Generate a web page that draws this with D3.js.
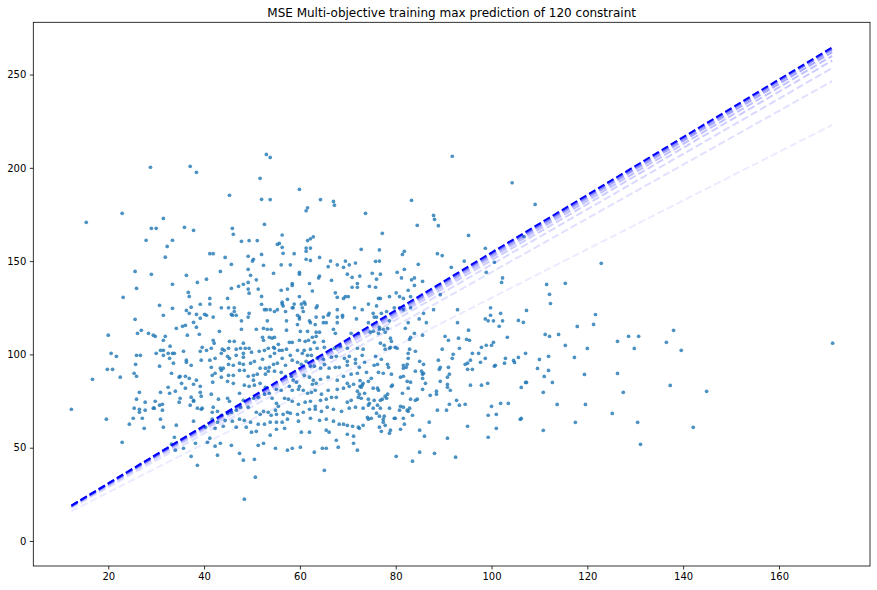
<!DOCTYPE html>
<html>
<head>
<meta charset="utf-8">
<script src="https://cdn.jsdelivr.net/npm/d3@7"></script>
<style>
html,body{margin:0;padding:0;background:#fff;}
svg{display:block;font-family:"DejaVu Sans",sans-serif;}
</style>
</head>
<body>
<svg id="chart" width="877" height="590"></svg>
<script>
const title = "MSE Multi-objective training max prediction of 120 constraint";
const xTicks = [20, 40, 60, 80, 100, 120, 140, 160];
const yTicks = [0, 50, 100, 150, 200, 250];
const xDomain = [4.35, 179.0];
const yDomain = [-13.4, 278.0];

// fitted lines: x range, y at start, y at end, opacity
const lineX = [12.3, 171.1];
const lineStartY = [16.0, 17.7, 18.2, 18.5, 18.7, 18.8, 18.9, 19.0];
const lineEndY   = [223.0, 246.5, 253.5, 257.5, 260.0, 262.0, 263.5, 264.5];
const lineAlpha  = [0.08, 0.12, 0.15, 0.2, 0.25, 0.35, 0.5, 1.0];

// scatter points [x, y]
const points = [
[28.8,200.3],[37.1,200.8],[38.4,197.6],[22.9,175.6],[15.4,170.8],[31.5,172.9],[29.0,167.6],[30.0,167.6],[35.9,168.1],[37.8,166.5],
[27.9,161.2],[33.4,161.2],[32.3,157.9],[31.9,152.1],[25.6,144.5],[29.0,142.9],[36.3,142.4],[40.5,140.3],[38.6,138.6],[33.4,137.6],
[25.9,135.4],[36.7,133.3],[36.9,131.1],[23.1,130.6],[39.2,126.9],[30.7,126.3],[33.4,124.7],[37.3,125.3],[36.3,123.6],[31.5,121.0],
[36.9,122.0],[38.4,121.5],[40.1,121.5],[40.5,121.0],[39.2,119.4],[25.6,118.8],[37.8,117.2],
[53.0,207.2],[53.8,205.6],[51.7,194.4],[45.3,185.3],[59.9,188.5],[52.0,183.1],[53.8,183],[64.3,183],[67.0,182],[67.2,180],
[61.6,178.6],[61.3,177],[52.6,169.7],[45.9,167.6],[46.1,164.4],[56.3,164],[47.8,160.6],[49.4,161],[51.1,161],[61.6,161],
[62.2,162],[62.8,163],[55.7,159.5],[55.3,159],[56.3,157.4],[61.3,157],[62.2,157],[61.3,155.3],[56.5,154.2],[52.0,153.6],
[58.8,154],[41.2,154],[41.9,154],[44.4,152],[49.2,152.6],[50.3,151],[50.1,150],[64.1,152],[61.3,151],[62.2,150.4],
[45.7,148.3],[52.4,147.8],[56.1,148],[58.0,148],[66.4,150],[67.8,148],[69.1,146.7],[69.5,150],[70.3,148],[71.6,149],
[65.9,147],[49.2,145.6],[43.4,144.5],[54.5,143.5],[59.9,144],[59.9,143],[49.7,142.4],[69.9,143],[70.9,141.3],[72.5,142],
[64.1,142],[63.9,141],[66.6,139.7],[50.9,140],[49.2,138.6],[48.2,137.6],[47.2,136.5],[58.4,138],[58.4,137],[62.0,138],
[72.0,138],[72.0,136],[70.9,136],[45.7,135.4],[49.2,135],[51.3,135],[57.4,135],[56.1,134.4],[62.6,134],[49.4,132.8],
[67.4,133],[52.0,131.1],[59.9,131],[67.8,130.6],[69.1,130],[69.5,131],[70.1,131],[44.9,130],[41.2,130],[57.4,129.5],
[52.0,126.9],[41.2,127],[56.3,128],[56.3,127],[56.5,126],[58.8,127],[60.3,127],[60.9,128],[61.1,127],[58.4,125],
[58.6,125],[63.6,126],[63.4,125],[43.6,125],[45.1,125],[46.3,125],[52.6,124],[53.0,124],[53.8,124],[55.3,124],
[54.7,123],[57.0,123],[60.5,125],[60.7,123],[46.3,123],[45.7,121.5],[45.9,121],[46.7,121],[49.4,122],[49.2,120],
[59.5,121],[59.9,120],[59.9,119],[63.4,120],[64.9,120],[66.1,122],[65.9,121],[67.8,124],[67.8,120],[68.9,121],
[68.9,120],[71.4,125],[41.9,120],[47.8,118],[53.2,118],[57.2,118],[62.0,118],[62.2,117],[63.2,116],[64.9,117],
[65.5,117],[67.8,117],[59.5,116],[71.8,119],
[91.8,206.2],[83.3,182.6],[73.7,175.6],[87.9,174.5],[88.1,172.4],[84.5,169.2],[88.9,169],[77.2,164.9],[95.2,163.8],[72.8,156.3],
[76.6,156],[81.8,155.3],[81.4,153.6],[88.7,154],[89.7,153],[98.7,156.9],[75.8,149.9],[76.6,150],[84.7,148.3],[94.3,150],
[100.6,149.4],[91.6,146.7],[81.8,145.6],[80.3,144],[75.1,143.5],[76.8,143],[98.9,144],[76.0,140.3],[81.2,141],
[83.3,140],[83.9,141],[85.6,139.2],[102.3,141],[102.1,138.6],[74.5,136.5],[75.8,136],[83.9,137],[82.6,134.4],[78.7,131],
[80.1,133],[80.8,131],[81.6,130],[83.1,131],[89.3,132],[76.4,130],[76.8,130],[74.3,127],[76.0,126],[79.7,125],
[80.8,125],[81.6,124],[83.1,125],[78.1,123],[75.3,122],[77.0,122],[85.8,122],[87.9,124],[92.9,124],[99.8,125],
[73.0,124],[75.5,120],[76.0,120],[78.7,118],[82.6,117],[84.9,119],[86.4,117],[92.9,117],[98.7,119],[99.3,118],
[99.8,121],[100.4,118],[101.9,122],[102.3,118],[74.3,117],
[20.0,110.3],[26.1,111.3],[26.9,112.9],[28.4,111.3],[29.4,110.3],[29.8,109.7],[31.9,109.7],[31.5,107.6],[34.2,114.0],[35.5,115.1],
[36.1,115.6],[38.4,114.6],[36.5,110.3],[39.0,110.8],[32.9,104.4],[30.9,102.2],[31.5,102.2],[30.0,100.6],[32.5,100.6],[33.4,100.6],
[33.8,100.6],[31.5,99.5],[32.8,97.9],[35.7,101.7],[39.2,101.7],[39.6,103.8],[40.5,102.2],[20.6,100.6],[21.7,99.0],
[25.9,99.5],[26.7,99.5],[36.3,96.9],[36.3,95.8],[33.6,95.3],[39.4,96.9],[25.7,94.7],[30.7,93.7],[37.3,94.2],
[19.8,92.0],[20.9,92.0],[25.4,89.9],[25.9,88.3],[22.5,87.8],[16.7,86.7],[33.2,89.9],[34.8,87.8],[35.0,88.3],[36.1,88.3],
[36.9,87.2],[38.4,86.2],[35.3,84.5],[36.1,81.9],[37.8,84.0],[39.2,82.9],[32.5,82.4],[26.5,79.7],[30.9,79.7],[32.8,79.2],
[34.0,80.3],[39.2,79.7],[39.4,77.6],[25.9,76.0],[35.0,76.5],[34.8,74.4],[37.3,77.1],[37.8,75.4],[37.1,72.8],
[37.8,74.9],[27.7,74.4],[29.8,74.9],[30.7,72.8],[31.3,73.3],[25.4,71.2],[26.5,70.6],[26.5,69.0],[27.7,70.1],[29.4,71.2],
[29.6,71.2],[31.3,70.1],[38.6,71.2],[39.4,70.6],[39.6,71.2],[12.3,70.6],[25.2,65.8],[27.1,65.8],[19.6,65.3],[30.9,65.3],
[24.4,62.6],[27.5,60.4],[31.5,61.0],[34.2,62.1],[37.8,64.2],[40.3,61.0],[22.9,52.9],[33.8,55.6],[38.2,52.4],
[40.7,52.9],[35.7,49.7],[34.0,48.7],[37.3,45.4],[38.6,40.6],[33.2,51.9],
[43.2,112.4],[47.8,113.5],[50.9,113.5],[52.4,114.0],[53.2,113.5],[54.0,113.5],[57.2,113.0],[60.1,112.4],[61.6,112.4],
[63.4,111.9],[64.1,111.9],[67.0,113.5],[67.4,111.3],[70.7,111.3],[72.2,111.3],[41.9,107.6],[42.1,106.0],[46.3,107.0],[48.2,106.0],
[45.3,107.0],[52.2,109.2],[52.4,107.6],[53.6,109.2],[54.2,108.7],[54.7,109.2],[55.5,105.4],[57.8,106.5],[58.4,106.5],[59.9,107.6],
[61.1,107.0],[61.8,107.6],[62.6,109.2],[63.0,106.5],[63.4,109.7],[64.9,107.0],[41.5,103.3],[43.8,102.8],[44.2,102.2],[45.1,103.3],
[46.7,102.8],[47.6,103.3],[48.6,103.3],[49.4,103.3],[51.5,101.7],[52.6,102.2],[53.4,103.3],[54.5,103.8],[54.7,103.3],[55.7,102.2],
[56.3,102.2],[57.2,102.8],[59.5,102.2],[60.9,102.2],[62.2,102.8],[63.6,103.3],[65.1,103.8],[67.2,103.3],[68.4,104.4],[69.9,103.3],
[72.0,103.3],[43.6,100.6],[44.9,99.0],[45.3,97.9],[46.7,99.5],[48.2,100.6],[48.2,98.5],[49.9,101.2],[52.2,97.4],[53.8,99.0],
[54.7,100.6],[56.3,97.9],[58.0,99.5],[60.5,100.6],[61.6,99.5],[62.4,99.5],[63.6,97.9],[64.9,97.4],[66.6,98.5],[67.6,99.0],
[69.3,97.9],[70.3,99.0],[71.6,97.4],[41.2,96.9],[42.3,97.9],[41.5,93.1],[43.4,92.6],[43.6,91.5],[44.0,92.6],[45.1,94.7],
[46.1,94.2],[47.4,95.3],[48.2,94.7],[49.7,95.3],[50.5,96.3],[51.7,92.6],[52.8,92.6],[53.6,93.1],[54.5,94.7],[55.3,95.3],
[57.0,94.2],[58.4,96.9],[59.5,95.8],[60.3,94.7],[61.3,96.3],[62.2,93.7],[63.0,93.7],[64.3,92.6],[65.1,94.7],[66.1,92.6],
[67.4,93.1],[68.2,93.1],[69.9,96.3],[69.9,94.2],[71.6,95.3],[72.4,93.1],[42.3,89.9],[41.7,88.8],[45.1,88.8],[46.1,88.8],
[46.1,84.5],[47.4,91.5],[48.4,91.5],[49.2,88.3],[50.3,86.2],[50.5,83.5],[50.3,88.8],[51.1,89.4],[52.8,89.4],[53.4,91.0],
[54.7,91.0],[56.1,90.4],[57.0,88.3],[58.2,88.3],[58.6,86.2],[59.3,85.1],[59.9,82.9],[60.9,88.8],[62.0,87.8],[62.6,84.0],
[62.8,86.2],[63.4,84.5],[64.3,86.7],[65.9,87.8],[67.8,86.2],[69.1,88.3],[70.7,89.4],[72.0,89.9],[69.9,84.5],[71.2,84.0],
[41.8,85.1],[43.6,87.8],[44.9,85.6],[48.4,83.5],[49.4,82.9],[51.7,84.5],[52.8,82.4],[55.1,81.3],[56.1,80.8],[57.8,82.9],
[58.4,80.8],[59.7,81.3],[60.7,80.8],[61.6,79.2],[62.4,79.7],[63.2,80.8],[64.5,78.7],[65.9,80.8],[66.6,77.0],[67.8,81.3],
[69.1,81.9],[70.3,82.9],[72.0,80.3],[72.4,78.7],[41.5,78.7],[43.0,76.0],[44.9,76.5],[45.3,74.9],[47.4,79.2],[48.2,75.4],
[50.3,76.5],[51.3,77.0],[52.6,78.7],[53.6,79.2],[54.2,76.5],[55.1,73.8],[55.5,72.2],[56.8,76.5],[57.6,76.0],[58.4,74.9],
[59.7,73.3],[61.1,74.4],[62.2,74.9],[63.2,72.2],[64.3,75.4],[65.5,76.0],[67.6,77.0],[69.9,74.4],[70.7,75.4],[72.2,77.0],
[41.9,71.7],[41.7,69.0],[42.8,69.5],[43.6,67.4],[44.9,68.5],[45.7,69.0],[46.7,70.1],[47.6,71.7],[49.2,71.7],[50.9,69.0],
[51.7,67.9],[52.4,69.5],[53.4,69.0],[54.0,67.4],[54.9,70.1],[55.1,67.9],[56.5,67.9],[57.4,69.0],[58.0,68.5],[59.5,67.9],
[60.7,69.0],[62.0,70.6],[63.2,70.6],[64.5,69.5],[65.7,71.7],[67.0,70.6],[68.7,69.5],[70.3,71.2],[71.6,71.7],[41.7,65.3],
[42.8,63.7],[44.4,64.7],[45.9,64.2],[47.4,65.3],[48.4,64.7],[49.7,63.7],[51.3,62.6],[52.6,62.6],[53.8,63.7],[55.1,63.7],
[56.3,63.7],[57.4,65.3],[59.7,64.2],[62.2,65.8],[64.1,64.7],[65.5,65.3],[67.0,64.2],[68.2,62.6],[69.1,62.6],[69.9,62.0],
[71.0,61.5],[72.2,61.0],[42.3,60.4],[44.0,61.5],[46.7,61.0],[48.8,61.0],[49.9,58.3],[50.9,58.8],[53.8,56.7],[55.1,59.9],
[56.8,60.4],[60.3,58.3],[62.0,58.3],[65.5,59.4],[66.1,58.3],[67.6,54.0],[69.9,57.2],[71.2,56.2],[72.4,60.4],[41.2,55.1],
[43.4,52.4],[45.7,51.3],[42.3,50.8],[42.8,46.0],[51.3,51.3],[52.4,52.4],[54.9,49.7],[57.4,48.7],[58.4,49.7],[60.1,50.3],
[63.0,47.6],[64.7,49.7],[65.5,49.7],[68.0,50.3],[71.2,52.4],[72.0,48.7],[47.4,47.0],[48.2,43.3],[50.5,43.8],[65.1,37.9],
[50.7,34.2],[48.4,22.4],
[82.0,114.0],[85.6,110.3],[83.9,111.3],[82.9,108.1],[83.1,109.2],[78.9,108.7],[79.1,107.0],[76.6,113.5],[77.4,113.5],[78.3,114.0],
[75.3,112.4],[74.7,111.9],[76.4,111.3],[77.8,111.9],[76.6,114.5],[90.3,109.7],[91.0,107.6],[93.1,108.7],[94.8,108.1],
[95.4,107.6],[95.2,113.0],[101.6,115.1],[103.3,109.2],[76.8,106.0],[77.6,104.9],[77.8,102.8],[78.7,103.3],[78.9,103.8],[79.9,103.8],
[80.3,103.3],[82.9,102.8],[82.6,100.6],[84.1,101.7],[89.7,102.8],[93.3,103.3],[96.0,100.6],[97.3,100.6],[97.9,103.8],[98.9,104.9],
[100.0,104.9],[100.4,106.5],[92.0,100.1],[91.8,97.9],[95.6,96.9],[95.0,95.3],[94.5,94.7],[97.7,95.8],[98.7,97.9],[100.8,94.2],
[100.6,93.7],[102.7,95.3],[102.9,97.9],[73.2,102.8],[73.0,99.5],[75.8,99.0],[77.0,97.4],[73.5,95.8],[75.5,94.2],[76.2,94.7],
[78.3,94.7],[78.5,93.1],[81.6,94.2],[82.4,94.7],[82.2,93.1],[81.6,92.6],[85.0,96.3],[85.8,94.7],[88.9,96.9],[89.3,93.1],
[89.1,92.0],[91.0,93.1],[95.0,92.0],[96.0,92.0],[73.9,90.4],[76.4,90.4],[77.4,89.9],[79.1,89.4],[81.0,87.8],[81.6,88.3],
[82.6,97.9],[84.1,91.0],[85.4,91.0],[85.6,89.4],[85.8,89.9],[85.6,87.2],[91.2,89.4],[90.8,87.8],[74.9,87.2],[74.3,85.6],
[73.2,84.5],[73.0,83.5],[72.8,82.4],[73.5,79.2],[75.3,81.9],[76.2,81.9],[76.4,80.8],[79.3,83.5],[79.1,82.9],[82.4,85.6],
[83.1,85.1],[82.6,81.9],[86.2,84.5],[85.6,81.3],[89.3,85.6],[90.8,84.0],[90.8,82.4],[91.4,80.8],[88.5,80.3],[88.5,78.7],
[87.2,78.1],[81.4,79.2],[78.3,78.7],[77.8,77.6],[78.1,76.5],[77.2,76.0],[76.8,75.4],[72.8,76.5],[74.3,76.0],[75.5,75.4],
[74.5,73.8],[74.3,72.8],[73.2,71.2],[76.2,72.8],[75.3,71.2],[76.8,71.2],[78.7,71.2],[81.0,72.2],[81.6,71.7],[82.9,71.2],
[82.4,70.1],[80.8,70.1],[79.9,65.8],[79.7,65.8],[82.6,69.5],[84.5,76.0],[84.1,75.4],[83.1,76.0],[83.5,67.4],[88.7,70.1],
[90.6,70.1],[91.2,73.3],[93.3,72.8],[94.5,73.3],[92.7,75.4],[95.6,83.5],[97.9,83.5],[99.2,84.5],[100.0,72.2],[101.9,73.8],
[103.5,73.8],[101.0,67.9],[99.3,67.4],[76.0,68.5],[74.9,65.8],[74.3,65.3],[74.1,66.3],[77.4,65.3],[77.4,63.7],[76.6,66.9],
[77.6,66.9],[81.6,65.8],[81.8,62.6],[73.2,62.0],[76.6,61.0],[77.8,62.0],[77.0,58.8],[78.9,59.4],[78.7,57.8],[81.0,59.9],
[85.0,59.4],[87.0,63.7],[86.0,56.2],[95.0,61.5],[101.0,60.4],[99.3,55.6],[90.8,55.1],[80.1,45.4],[85.0,47.6],[88.1,47.0],
[92.5,44.9],[83.5,42.8],[72.55,86.0],[72.55,82.9],
[104.3,192.0],[109.1,180.4],[106.8,163.2],[122.9,148.8],[111.5,137.5],[115.4,138.1],[112.1,132.2],[112.3,127.3],[107.3,123.6],[121.7,121.4],
[105.6,118.2],[106.65,117.2],[117.9,115.0],[121.3,116.1],[111.2,110.7],[112.1,109.7],[114.0,110.7],[115.4,104.8],[120.0,103.2],[126.3,107.0],
[128.6,109.7],[130.7,109.7],[129.8,103.2],[136.5,106.5],[138.0,112.9],[139.6,102.2],[171.2,106.0],[104.6,96.8],[104.8,95.7],[105.6,98.4],
[107.1,100.6],[110.0,97.3],[111.9,99.0],[117.3,98.4],[109.6,92.5],[111.9,91.4],[111.0,88.2],[112.7,85.0],[107.1,85.0],[107.3,85.0],
[106.2,82.3],[110.8,79.7],[119.4,89.3],[126.3,89.8],[127.5,79.7],[137.3,83.4],[144.9,80.2],[113.7,73.2],[119.6,73.2],[125.2,68.4],
[106.0,65.2],[106.2,65.7],[117.5,63.6],[130.5,63.6],[142.1,60.9],[110.8,59.3],[131.1,51.8]
];

const W = 877, H = 590;
const plot = {left: 33.3, right: 870, top: 22.3, bottom: 566};

const svg = d3.select("#chart");
svg.append("rect").attr("width", W).attr("height", H).attr("fill", "#fff");

const x = d3.scaleLinear().domain(xDomain).range([plot.left, plot.right]);
const y = d3.scaleLinear().domain(yDomain).range([plot.bottom, plot.top]);

const g = svg.append("g");

// points
g.append("g").selectAll("circle").data(points).join("circle")
  .attr("cx", d => x(d[0])).attr("cy", d => y(d[1])).attr("r", 1.85)
  .attr("fill", "#1f77b4").attr("fill-opacity", 0.8);

// lines
const lines = lineStartY.map((s, i) => ({pts: [[lineX[0], s], [lineX[1], lineEndY[i]]], a: lineAlpha[i]}));
const lineGen = d3.line().x(d => x(d[0])).y(d => y(d[1]));
g.append("g").selectAll("path").data(lines).join("path")
  .attr("d", d => lineGen(d.pts))
  .attr("fill", "none").attr("stroke", "#0000ff")
  .attr("stroke-opacity", d => d.a)
  .attr("stroke-width", 2)
  .attr("stroke-dasharray", "7.4,3.2");

// axes
const xAxis = d3.axisBottom(x).tickValues(xTicks).tickSize(3.5).tickPadding(3.5).tickSizeOuter(0);
const yAxis = d3.axisLeft(y).tickValues(yTicks).tickSize(3.5).tickPadding(3.5).tickSizeOuter(0);
const gx = svg.append("g").attr("transform", `translate(0,${plot.bottom})`).call(xAxis);
const gy = svg.append("g").attr("transform", `translate(${plot.left},0)`).call(yAxis);
[gx, gy].forEach(a => {
  a.select(".domain").remove();
  a.selectAll("text").attr("font-family", "DejaVu Sans").attr("font-size", 10).attr("fill", "#000");
  a.selectAll("line").attr("stroke", "#000").attr("stroke-width", 0.8);
});

// frame
svg.append("rect")
  .attr("x", plot.left).attr("y", plot.top)
  .attr("width", plot.right - plot.left).attr("height", plot.bottom - plot.top)
  .attr("fill", "none").attr("stroke", "#000").attr("stroke-width", 0.8);

svg.append("text")
  .attr("x", (plot.left + plot.right) / 2).attr("y", 16.5)
  .attr("text-anchor", "middle")
  .attr("font-family", "DejaVu Sans").attr("font-size", 12).attr("fill", "#000")
  .text(title);
</script>
</body>
</html>
